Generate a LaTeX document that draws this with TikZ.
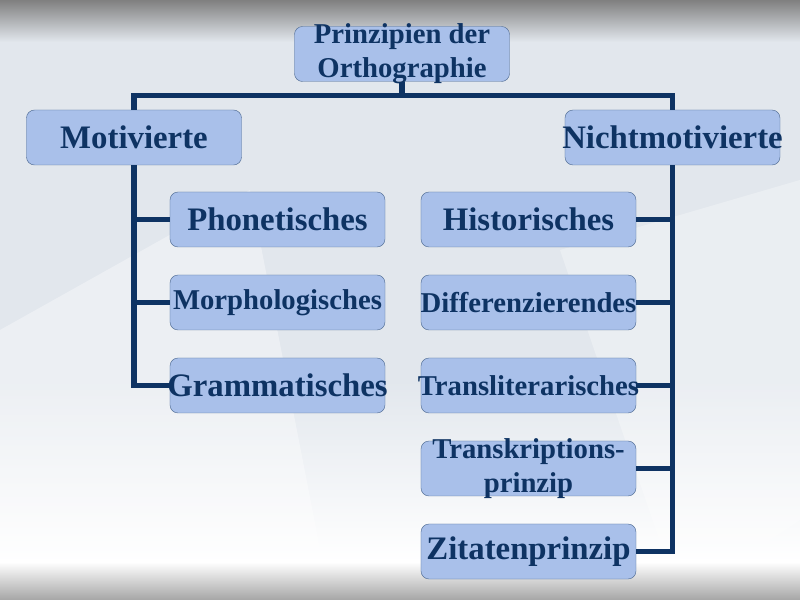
\documentclass[tikz,border=0pt]{standalone}
\usepackage{fontspec}
\setmainfont{Liberation Serif}
\usetikzlibrary{positioning}
\definecolor{navy}{HTML}{0E3363}
\definecolor{boxfill}{HTML}{A9C0EA}
\definecolor{boxline}{HTML}{4E6A92}
\definecolor{bgmid}{HTML}{E2E7ED}
\tikzset{
	box/.style = {
		rectangle,
		rounded corners=0.24cm,
		draw=boxline,
		fill=boxfill,
		thin,
		align=center,
		inner sep=0pt,
		text=navy,
		minimum width=6.45cm,
		minimum height=1.65cm
	},
	box_big/.style = {
		box,
		font=\fontsize{28}{30}\selectfont\bfseries
	},
	box_small/.style = {
		box,
		inner ysep=-4pt,
		font=\fontsize{24.5}{29}\selectfont\bfseries
	},
	link/.style = {
		draw=navy,
		line width=4.3pt
	},
}
% text wider than its box
\newcommand{\wide}[1]{\makebox[0pt]{#1}}
\begin{document}
\begin{tikzpicture}[x=0.03cm, y=-0.03cm]
\useasboundingbox (0,0) rectangle (800,600);
% background
\fill[bgmid] (0,0) rectangle (800,600);
\shade[top color=bgmid, bottom color=white] (0,380) rectangle (800,562);
\fill[white, opacity=0.35] (0,330) -- (250,190) -- (330,600) -- (0,600) -- cycle;
\fill[white, opacity=0.3] (560,250) -- (800,180) -- (800,520) -- (680,600) -- cycle;
\shade[top color=black!50, bottom color=bgmid] (0,0) rectangle (800,42);
\shade[top color=white, bottom color=black!35] (0,562) rectangle (800,600);
% nodes
\node [box_small] (top) at (402,54) {Prinzipien der\\Orthographie};
\node [box_big] (mot) at (134,137.5) {Motivierte};
\node [box_big] (nicht) at (672.5,137.5) {\wide{Nichtmotivierte}};
\node [box_big] (phon) at (277.5,219.5) {Phonetisches};
\node [box_small] (morph) at (277.5,302.5) {Morphologisches};
\node [box_big] (gram) at (277.5,385.5) {\wide{Grammatisches}};
\node [box_big] (hist) at (528.5,219.5) {Historisches};
\node [box_small] (diff) at (528.5,302.5) {\wide{Differenzierendes}};
\node [box_small] (trans) at (528.5,385.5) {\wide{Transliterarisches}};
\node [box_small] (transk) at (528.5,468.5) {Transkriptions-\\prinzip};
\node [box_big] (zit) at (528.5,551.5) {Zitatenprinzip};
% connectors
\draw [link] (top.south) -- ++(0,14) coordinate (hub);
\draw [link] (hub) -| (mot.north);
\draw [link] (hub) -| (nicht.north);
\foreach \n in {phon, morph, gram}
	\draw [link] (mot.south) |- (\n.west);
\foreach \n in {hist, diff, trans, transk, zit}
	\draw [link] (nicht.south) |- (\n.east);
\end{tikzpicture}
\end{document}
